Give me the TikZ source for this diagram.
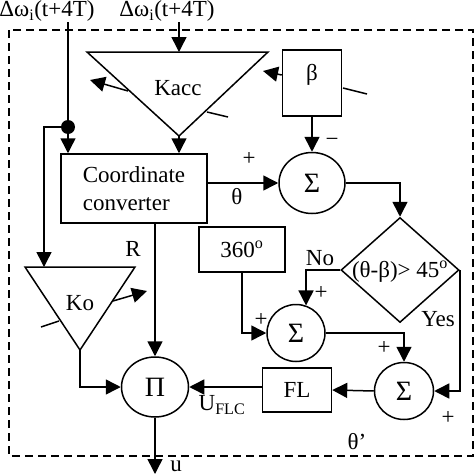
\documentclass[tikz,border=0pt]{standalone}
\usepackage{fontspec}
\setmainfont{Liberation Serif}
\usetikzlibrary{arrows.meta,shapes.geometric}

\begin{document}
\begin{tikzpicture}[x=1pt, y=-1pt, >={Triangle[length=15pt,width=15pt]},
  line width=1.5pt,
  every node/.style={font=\fontsize{23}{28}\selectfont, inner sep=0pt},
  block/.style={draw, rectangle, minimum width=#1},
  sumnode/.style={draw, ellipse, minimum width=#1, minimum height=58pt,
    font=\fontsize{28}{30}\selectfont}]
  \useasboundingbox (0,0) rectangle (474,474);
  % outer frame
  \draw[dash pattern=on 8pt off 5pt] (9,30) rectangle (473,456);
  % inputs
  \node at (47,11) {Δω\textsubscript{i}(t+4T)};
  \node at (167,11) {Δω\textsubscript{i}(t+4T)};
  \coordinate (inL) at (68,22);
  \coordinate (inR) at (179,22);
  \coordinate (split) at (68,127);
  % Kacc gain
  \coordinate (kaccTL) at (87,52);
  \coordinate (kaccTR) at (268,52);
  \coordinate (kaccB) at (179,136);
  \draw (kaccTL) -- (kaccTR) -- (kaccB) -- cycle;
  \node at (178,88) {Kacc};
  \draw[->] (128,91) -- (90,80);
  \draw (207,112) -- (228,117);
  % beta
  \node[block=59pt, minimum height=66pt] (beta) at (312,83) {};
  \node at (312,75) {β};
  \draw[->] (beta.west |- 0,75) -- (263,71);
  \draw (343,88) -- (367,94);
  % coordinate converter
  \node[block=146pt, minimum height=69pt, align=left] (conv) at (134,188.5)
    {Coordinate\\converter};
  % Ko gain
  \coordinate (koTL) at (25,267);
  \coordinate (koTR) at (135,267);
  \coordinate (koB) at (80,350);
  \coordinate (koIn) at (44,267);
  \draw (koTL) -- (koTR) -- (koB) -- cycle;
  \node at (80,303) {Ko};
  \draw[->] (113,301) -- (147,291);
  \draw (41,327) -- (59,321);
  % sums, comparison, blocks
  \node[sumnode=66pt, minimum height=61pt] (sum1) at (312,183) {Σ};
  \node[draw, diamond, minimum width=118pt, minimum height=105pt] (dia) at (400,270) {};
  \node at (400,272) {(θ-β)> 45\textsuperscript{o}};
  \node[block=86pt, minimum height=45pt] (b360) at (242,249.5) {360\textsuperscript{o}};
  \node[sumnode=58pt, minimum height=57pt] (sum2) at (296,333) {Σ};
  \node[sumnode=59pt, minimum height=57pt] (sum3) at (404,391) {Σ};
  \node[block=69pt, minimum height=44pt] (fl) at (297,390) {FL};
  \node[sumnode=67pt, minimum height=60pt] (pi) at (155,387) {Π};
  \coordinate (out) at (155,474);
  % connections
  \draw (inL) -- (split);
  \fill (split) circle (7pt);
  \draw[->] (split) -- (conv.north -| split);
  \draw[->] (split) -- (44,127) -- (koIn);
  \draw[->] (inR) -- (inR |- kaccTL);
  \draw[->] (kaccB) -- (kaccB |- conv.north);
  \draw[->] (conv.east |- sum1) -- (sum1.west);
  \draw[->] (beta.south) -- (sum1.north);
  \draw[->] (sum1.east) -| (dia.north);
  \draw[->] (dia.west) -| (sum2.70);
  \draw[->] (b360.south) |- (sum2.west);
  \draw[->] (sum2.east) -| (sum3.north);
  \draw[->] (dia.east) |- (sum3.east);
  \draw[->] (sum3.west) -- (fl.east);
  \draw[->] (fl.west |- pi) -- (pi.east);
  \draw[->] (conv.south -| pi) -- (pi.north);
  \draw[->] (koB) |- (pi.west);
  \draw[->] (pi.south) -- (out);
  % labels
  \node at (249,159) {+};
  \node at (237,197) {θ};
  \node at (332,142) {−};
  \node at (133,249) {R};
  \node at (320,258) {No};
  \node at (321,293) {+};
  \node at (261,320) {+};
  \node at (384,348) {+};
  \node at (448,418) {+};
  \node at (438,319) {Yes};
  \node at (222,405) {U\textsubscript{FLC}};
  \node at (357,442) {θ’};
  \node at (176,466) {u};
\end{tikzpicture}
\end{document}
